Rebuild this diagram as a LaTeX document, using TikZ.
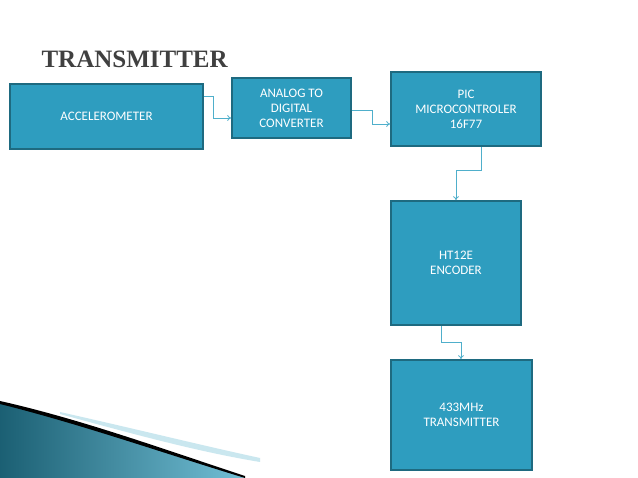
\documentclass[tikz,border=0pt]{standalone}
\usetikzlibrary{arrows.meta}
\usepackage{fontspec}
\setmainfont{Carlito}
\newfontfamily\titlefont{Liberation Serif}
\definecolor{boxfill}{HTML}{2E9DBF}
\definecolor{boxedge}{HTML}{1E6A80}
\definecolor{arr}{HTML}{4FAFCB}
\begin{document}
\begin{tikzpicture}[x=1pt,y=-1pt,
  blk/.style={draw=boxedge,line width=1.6pt,fill=boxfill,text=white,font=\fontsize{13}{15}\selectfont,align=center,inner sep=0pt},
  con/.style={draw=arr,line width=0.8pt,-{To[length=4pt,width=6pt]}}]
\useasboundingbox (0,0) rectangle (638,478);
\fill[white] (0,0) rectangle (638,478);
% swoosh
\shade[left color=boxedge!90!black,right color=arr!80] (0,402) .. controls (80,420) and (160,450) .. (245,478) -- (0,478) -- cycle;
\fill[black] (0,401) .. controls (80,419) and (160,448) .. (245,476) -- (245,478) .. controls (160,452) and (80,424) .. (0,404) -- cycle;
\fill[arr!30] (60,412) .. controls (140,430) and (200,445) .. (260,458) -- (260,462) .. controls (200,452) and (140,436) .. (60,414) -- cycle;
\node[anchor=west,font=\titlefont\bfseries\fontsize{25}{27}\selectfont,text=black!75] (t) at (38,59) {TRANSMITTER};
\node[blk,minimum width=193pt,minimum height=65pt] (acc) at (106.5,116.5) {ACCELEROMETER};
\node[blk,minimum width=119pt,minimum height=60pt] (adc) at (291.5,108) {ANALOG TO\\DIGITAL\\CONVERTER};
\node[blk,minimum width=150pt,minimum height=74pt] (pic) at (466,109) {PIC\\MICROCONTROLER\\16F77};
\node[blk,minimum width=130pt,minimum height=124pt] (ht) at (456,263) {HT12E\\ENCODER};
\node[blk,minimum width=141pt,minimum height=110pt] (tx) at (461.5,415) {433MHz\\TRANSMITTER};
\coordinate (c1) at (213,96); \coordinate (c2) at (213,118);
\draw[con] (acc.east |- c1) -- (c1) -- (c2) -- (adc.west |- c2);
\coordinate (c3) at (372,110); \coordinate (c4) at (372,124);
\draw[con] (adc.east |- c3) -- (c3) -- (c4) -- (pic.west |- c4);
\coordinate (c5) at (481,170); \coordinate (c6) at (456,170);
\draw[con] (pic.south -| c5) -- (c5) -- (c6) -- (ht.north -| c6);
\coordinate (c7) at (441,342); \coordinate (c8) at (461,342);
\draw[con] (ht.south -| c7) -- (c7) -- (c8) -- (tx.north -| c8);
\end{tikzpicture}
\end{document}
